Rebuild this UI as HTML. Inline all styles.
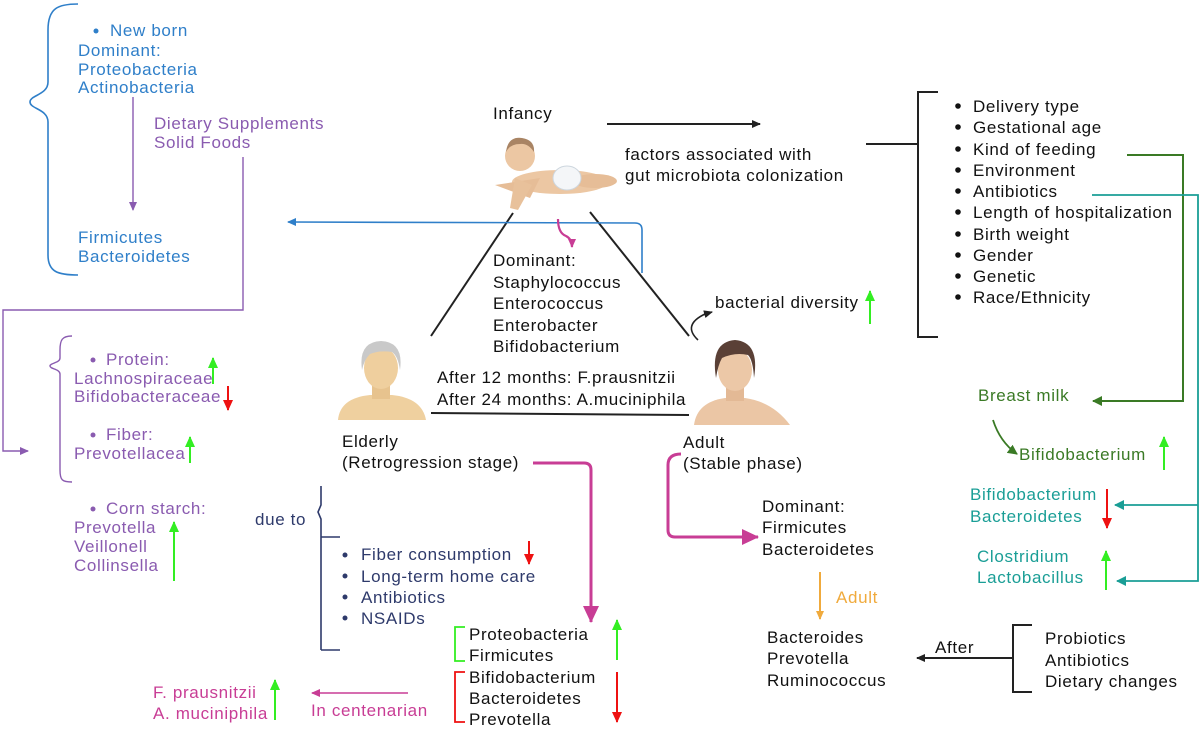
<!DOCTYPE html>
<html><head><meta charset="utf-8"><style>
html,body{margin:0;padding:0;background:#fff;}
svg{display:block;font-family:"Liberation Sans",Arial,sans-serif;font-size:17px;letter-spacing:0.65px;}
</style></head><body>
<svg width="1200" height="730" viewBox="0 0 1200 730" xmlns="http://www.w3.org/2000/svg">
<defs>
<marker id="ab" markerWidth="10" markerHeight="10" refX="8" refY="5" orient="auto" markerUnits="userSpaceOnUse"><path d="M0,1 L9,5 L0,9 z" fill="#222"/></marker>
<marker id="abl" markerWidth="10" markerHeight="10" refX="8" refY="5" orient="auto" markerUnits="userSpaceOnUse"><path d="M0,1 L9,5 L0,9 z" fill="#2f7fc9"/></marker>
<marker id="ap" markerWidth="10" markerHeight="10" refX="8" refY="5" orient="auto" markerUnits="userSpaceOnUse"><path d="M0,1 L9,5 L0,9 z" fill="#8a5bb0"/></marker>
<marker id="apk" markerWidth="10" markerHeight="10" refX="8" refY="5" orient="auto" markerUnits="userSpaceOnUse"><path d="M0,1 L9,5 L0,9 z" fill="#c83d95"/></marker>
<marker id="apk2" markerWidth="20" markerHeight="20" refX="16" refY="8" orient="auto" markerUnits="userSpaceOnUse"><path d="M0,0 L17,8 L0,16 z" fill="#c83d95"/></marker>
<marker id="ag" markerWidth="12" markerHeight="12" refX="10" refY="5" orient="auto" markerUnits="userSpaceOnUse"><path d="M0,0 L11,5 L0,10 z" fill="#33ee22"/></marker>
<marker id="ar" markerWidth="12" markerHeight="12" refX="10" refY="5" orient="auto" markerUnits="userSpaceOnUse"><path d="M0,0 L11,5 L0,10 z" fill="#ee1111"/></marker>
<marker id="adg" markerWidth="12" markerHeight="12" refX="9" refY="5" orient="auto" markerUnits="userSpaceOnUse"><path d="M0,0 L10,5 L0,10 z" fill="#3a7a25"/></marker>
<marker id="at" markerWidth="12" markerHeight="12" refX="9" refY="5" orient="auto" markerUnits="userSpaceOnUse"><path d="M0,0 L10,5 L0,10 z" fill="#1a9e96"/></marker>
<marker id="ao" markerWidth="10" markerHeight="10" refX="8" refY="5" orient="auto" markerUnits="userSpaceOnUse"><path d="M0,1 L9,5 L0,9 z" fill="#f0aa3c"/></marker>
</defs>

<path d="M78,4 C58,4 48,8 48,30 L48,82 C48,95 30,95 30,102 C30,109 48,109 48,122 L48,255 C48,272 58,275 78,275" fill="none" stroke="#2f7fc9" stroke-width="1.6"/>
<g fill="#2f7fc9">
<circle cx="96" cy="31" r="2.5"/>
<text x="110" y="36">New born</text>
<text x="78" y="56">Dominant:</text>
<text x="78" y="75">Proteobacteria</text>
<text x="78" y="93">Actinobacteria</text>
<text x="78" y="243">Firmicutes</text>
<text x="78" y="262">Bacteroidetes</text>
</g>
<line x1="133" y1="97" x2="133" y2="210" stroke="#8a5bb0" stroke-width="1.4" marker-end="url(#ap)"/>
<g fill="#8a5bb0">
<text x="154" y="129">Dietary Supplements</text>
<text x="154" y="148">Solid Foods</text>
</g>
<path d="M243,157 L243,310 L3,310 L3,451 L28,451" fill="none" stroke="#8a5bb0" stroke-width="1.4" marker-end="url(#ap)"/>
<path d="M72,336 C62,336 60,340 60,350 L60,358 C60,363 50,363 50,366 C50,369 60,369 60,374 L60,470 C60,480 62,482 72,482" fill="none" stroke="#8a5bb0" stroke-width="1.4"/>
<g fill="#8a5bb0">
<circle cx="93" cy="360" r="2.5"/><text x="106" y="365">Protein:</text>
<text x="74" y="384">Lachnospiraceae</text>
<text x="74" y="402">Bifidobacteraceae</text>
<circle cx="93" cy="435" r="2.5"/><text x="106" y="440">Fiber:</text>
<text x="74" y="459">Prevotellacea</text>
<circle cx="93" cy="509" r="2.5"/><text x="106" y="514">Corn starch:</text>
<text x="74" y="533">Prevotella</text>
<text x="74" y="552">Veillonell</text>
<text x="74" y="571">Collinsella</text>
</g>
<line x1="213" y1="384" x2="213" y2="358" stroke="#33ee22" stroke-width="2" marker-end="url(#ag)"/>
<line x1="228" y1="386" x2="228" y2="410" stroke="#ee1111" stroke-width="2" marker-end="url(#ar)"/>
<line x1="190" y1="463" x2="190" y2="437" stroke="#33ee22" stroke-width="2" marker-end="url(#ag)"/>
<line x1="174" y1="581" x2="174" y2="522" stroke="#33ee22" stroke-width="2" marker-end="url(#ag)"/>

<text x="255" y="525" fill="#2e3a6b">due to</text>
<path d="M321,486 L321,505 L318,512 L321,519 L321,650" fill="none" stroke="#2e3a6b" stroke-width="1.6"/>
<line x1="321" y1="537" x2="340" y2="537" stroke="#2e3a6b" stroke-width="1.6"/>
<line x1="321" y1="650" x2="340" y2="650" stroke="#2e3a6b" stroke-width="1.6"/>
<g fill="#2e3a6b">
<circle cx="345" cy="555" r="2.5"/><text x="361" y="560">Fiber consumption</text>
<circle cx="345" cy="576" r="2.5"/><text x="361" y="582">Long-term home care</text>
<circle cx="345" cy="597" r="2.5"/><text x="361" y="603">Antibiotics</text>
<circle cx="345" cy="618" r="2.5"/><text x="361" y="624">NSAIDs</text>
</g>
<line x1="529" y1="541" x2="529" y2="564" stroke="#ee1111" stroke-width="2" marker-end="url(#ar)"/>

<path d="M465,627 L455,627 L455,661 L465,661" fill="none" stroke="#33ee22" stroke-width="1.8"/>
<path d="M465,672 L455,672 L455,722 L465,722" fill="none" stroke="#ee1111" stroke-width="1.8"/>
<g fill="#111">
<text x="469" y="640">Proteobacteria</text>
<text x="469" y="661">Firmicutes</text>
<text x="469" y="683">Bifidobacterium</text>
<text x="469" y="704">Bacteroidetes</text>
<text x="469" y="725">Prevotella</text>
</g>
<line x1="617" y1="660" x2="617" y2="620" stroke="#33ee22" stroke-width="2" marker-end="url(#ag)"/>
<line x1="617" y1="672" x2="617" y2="722" stroke="#ee1111" stroke-width="2" marker-end="url(#ar)"/>
<line x1="408" y1="693" x2="312" y2="693" stroke="#c83d95" stroke-width="1.6" marker-end="url(#apk)"/>
<text x="311" y="716" fill="#c83d95">In centenarian</text>
<g fill="#c83d95">
<text x="153" y="698">F. prausnitzii</text>
<text x="153" y="719">A. muciniphila</text>
</g>
<line x1="275" y1="720" x2="275" y2="680" stroke="#33ee22" stroke-width="2" marker-end="url(#ag)"/>
<path d="M533,463 L584,463 Q591,463 591,470 L591,622" fill="none" stroke="#c83d95" stroke-width="3" marker-end="url(#apk2)"/>

<line x1="513" y1="213" x2="431" y2="336" stroke="#222" stroke-width="2"/>
<line x1="590" y1="212" x2="689" y2="336" stroke="#222" stroke-width="2"/>
<line x1="431" y1="413" x2="689" y2="415" stroke="#222" stroke-width="2"/>
<path d="M642,273 L642,230 Q642,223 635,223 L288,222" fill="none" stroke="#2f7fc9" stroke-width="1.6" marker-end="url(#abl)"/>
<path d="M558,219 Q558,233 566,236 Q572,239 572,247" fill="none" stroke="#c83d95" stroke-width="2.2" marker-end="url(#apk)"/>

<text x="493" y="119" fill="#111">Infancy</text>
<g>
<ellipse cx="560" cy="182" rx="48" ry="12" fill="#ecc7a3"/>
<ellipse cx="595" cy="181" rx="22" ry="7" fill="#e6bd97"/>
<path d="M495,185 L540,178 L530,198 Z" fill="#e6bd97"/>
<path d="M515,178 L510,208 L518,210 L532,185 Z" fill="#e8c19b"/>
<ellipse cx="567" cy="178" rx="14" ry="12" fill="#f4f6f8" stroke="#cdd6de" stroke-width="1"/>
<circle cx="520" cy="156" r="15" fill="#ecc7a3"/>
<path d="M506,152 Q508,136 522,138 Q535,140 534,152 Q528,143 520,144 Q510,144 506,152 Z" fill="#a98464"/>
</g>
<line x1="607" y1="124" x2="760" y2="124" stroke="#222" stroke-width="2" marker-end="url(#ab)"/>
<g fill="#111">
<text x="625" y="160">factors associated with</text>
<text x="625" y="181">gut microbiota colonization</text>
<text x="493" y="266">Dominant:</text>
<text x="493" y="288">Staphylococcus</text>
<text x="493" y="309">Enterococcus</text>
<text x="493" y="331">Enterobacter</text>
<text x="493" y="352">Bifidobacterium</text>
<text x="437" y="383">After 12 months: F.prausnitzii</text>
<text x="437" y="405">After 24 months: A.muciniphila</text>
<text x="715" y="308">bacterial diversity</text>
<text x="342" y="447">Elderly</text>
<text x="342" y="468">(Retrogression stage)</text>
<text x="683" y="448">Adult</text>
<text x="683" y="469">(Stable phase)</text>
</g>
<line x1="870" y1="324" x2="870" y2="291" stroke="#33ee22" stroke-width="2" marker-end="url(#ag)"/>
<path d="M698,340 Q682,325 705,314 L712,312" fill="none" stroke="#222" stroke-width="1.6" marker-end="url(#ab)"/>

<g>
<path d="M338,420 Q340,398 370,395 L392,395 Q422,398 426,420 Z" fill="#efd09f"/>
<rect x="372" y="383" width="18" height="16" fill="#e7c38e"/>
<ellipse cx="381" cy="368" rx="17" ry="21" fill="#efcf9e"/>
<path d="M362,370 Q358,342 381,341 Q404,342 400,370 Q398,356 392,352 Q380,350 370,354 Q364,360 362,370 Z" fill="#c9c9c9"/>
</g>
<g>
<path d="M694,425 Q697,402 725,398 L745,398 Q773,402 790,425 Z" fill="#ebc6a5"/>
<rect x="726" y="385" width="18" height="16" fill="#e3b995"/>
<ellipse cx="735" cy="370" rx="17" ry="21" fill="#ecc8a7"/>
<path d="M716,378 Q710,342 735,340 Q760,342 754,378 Q753,360 748,355 Q735,352 722,358 Q718,365 716,378 Z" fill="#5a4036"/>
</g>

<path d="M681,454 Q668,454 668,465 L668,530 Q668,537 675,537 L758,537" fill="none" stroke="#c83d95" stroke-width="3" marker-end="url(#apk2)"/>
<g fill="#111">
<text x="762" y="512">Dominant:</text>
<text x="762" y="533">Firmicutes</text>
<text x="762" y="555">Bacteroidetes</text>
<text x="767" y="643">Bacteroides</text>
<text x="767" y="664">Prevotella</text>
<text x="767" y="686">Ruminococcus</text>
<text x="935" y="653">After</text>
<text x="1045" y="644">Probiotics</text>
<text x="1045" y="666">Antibiotics</text>
<text x="1045" y="687">Dietary changes</text>
</g>
<line x1="820" y1="572" x2="820" y2="619" stroke="#f0aa3c" stroke-width="2" marker-end="url(#ao)"/>
<text x="836" y="603" fill="#f0aa3c">Adult</text>
<line x1="1013" y1="658" x2="917" y2="658" stroke="#222" stroke-width="2" marker-end="url(#ab)"/>
<path d="M1032,625 L1013,625 L1013,692 L1032,692" fill="none" stroke="#222" stroke-width="2"/>

<path d="M938,92 L918,92 L918,337 L938,337" fill="none" stroke="#222" stroke-width="2"/>
<line x1="866" y1="144" x2="918" y2="144" stroke="#222" stroke-width="2"/>
<g fill="#111">
<circle cx="958" cy="106" r="2.8"/><text x="973" y="112">Delivery type</text>
<circle cx="958" cy="127" r="2.8"/><text x="973" y="133">Gestational age</text>
<circle cx="958" cy="149" r="2.8"/><text x="973" y="155">Kind of feeding</text>
<circle cx="958" cy="170" r="2.8"/><text x="973" y="176">Environment</text>
<circle cx="958" cy="191" r="2.8"/><text x="973" y="197">Antibiotics</text>
<circle cx="958" cy="212" r="2.8"/><text x="973" y="218">Length of hospitalization</text>
<circle cx="958" cy="234" r="2.8"/><text x="973" y="240">Birth weight</text>
<circle cx="958" cy="255" r="2.8"/><text x="973" y="261">Gender</text>
<circle cx="958" cy="276" r="2.8"/><text x="973" y="282">Genetic</text>
<circle cx="958" cy="297" r="2.8"/><text x="973" y="303">Race/Ethnicity</text>
</g>
<path d="M1127,155 L1183,155 L1183,401 L1093,401" fill="none" stroke="#3a7a25" stroke-width="2" marker-end="url(#adg)"/>
<path d="M1092,195 L1198,195 L1198,581 L1117,581" fill="none" stroke="#1a9e96" stroke-width="1.8" marker-end="url(#at)"/>
<line x1="1198" y1="505" x2="1115" y2="505" stroke="#1a9e96" stroke-width="1.8" marker-end="url(#at)"/>
<text x="978" y="401" fill="#3a7a25">Breast milk</text>
<path d="M993,420 Q1000,442 1017,454" fill="none" stroke="#3a7a25" stroke-width="1.8" marker-end="url(#adg)"/>
<text x="1019" y="460" fill="#3a7a25">Bifidobacterium</text>
<line x1="1164" y1="470" x2="1164" y2="437" stroke="#33ee22" stroke-width="2" marker-end="url(#ag)"/>
<g fill="#1a9e96">
<text x="970" y="500">Bifidobacterium</text>
<text x="970" y="522">Bacteroidetes</text>
<text x="977" y="562">Clostridium</text>
<text x="977" y="583">Lactobacillus</text>
</g>
<line x1="1107" y1="489" x2="1107" y2="528" stroke="#ee1111" stroke-width="2" marker-end="url(#ar)"/>
<line x1="1106" y1="590" x2="1106" y2="551" stroke="#33ee22" stroke-width="2" marker-end="url(#ag)"/>
</svg>
</body></html>
